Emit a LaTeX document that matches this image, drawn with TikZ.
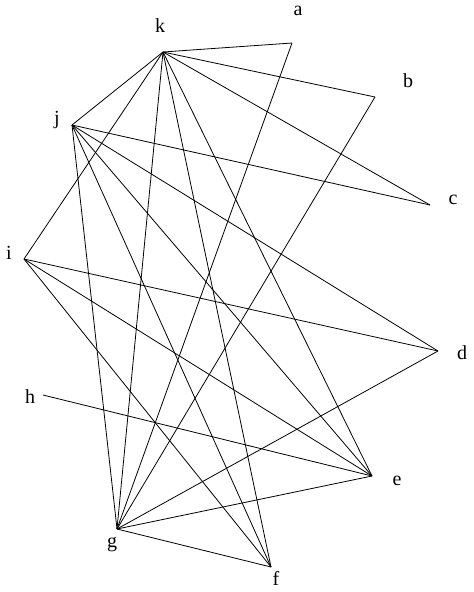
\documentclass[tikz,border=0pt]{standalone}
\usepackage{fontspec}
\setmainfont{Liberation Serif}
\begin{document}
\begin{tikzpicture}[x=1pt,y=-1pt,
  edge/.style={draw=black,line width=0.8pt},
  lbl/.style={font=\fontsize{20}{22}\selectfont,inner sep=0pt,anchor=center}]
\useasboundingbox (0,0) rectangle (474,592);
% vertices
\coordinate (a) at (292,43);
\coordinate (b) at (375,97);
\coordinate (c) at (430,205);
\coordinate (d) at (438,351);
\coordinate (e) at (372,476);
\coordinate (f) at (271,567);
\coordinate (g) at (117,529);
\coordinate (h) at (43,395);
\coordinate (i) at (24,259);
\coordinate (j) at (72,125);
\coordinate (k) at (163,52);
% labels
\node[lbl] (la) at (298,11) {a};
\node[lbl] (lb) at (408,81) {b};
\node[lbl] (lc) at (453,200) {c};
\node[lbl] (ld) at (462,353) {d};
\node[lbl] (le) at (397,481) {e};
\node[lbl] (lf) at (276,578) {f};
\node[lbl] (lg) at (112,545) {g};
\node[lbl] (lh) at (30,397) {h};
\node[lbl] (li) at (9,253) {i};
\node[lbl] (lj) at (57,120) {j};
\node[lbl] (lk) at (160,26) {k};
% edges
\foreach \u/\v in {k/a,k/b,k/c,k/e,k/f,k/g,k/i,k/j,
                   j/c,j/d,j/e,j/f,j/g,
                   i/d,i/e,i/f,h/e,
                   g/a,g/b,g/d,g/e,g/f}
  \draw[edge] (\u) -- (\v);
\end{tikzpicture}
\end{document}
